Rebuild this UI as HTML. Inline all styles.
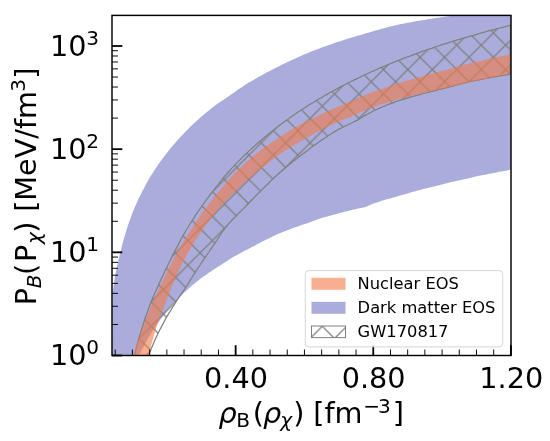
<!DOCTYPE html>
<html><head><meta charset="utf-8"><title>EOS plot</title>
<style>html,body{margin:0;padding:0;background:#fff;}body{width:550px;height:441px;position:relative;overflow:hidden;}</style>
</head><body>
<svg width="550" height="441" viewBox="0 0 550 441" style="position:absolute;left:0;top:0">
<defs>
<clipPath id="ax"><rect x="112.0" y="15.4" width="399.0" height="340.1"/></clipPath>
<pattern id="hx" patternUnits="userSpaceOnUse" x="4.45" y="8.4" width="24.45" height="24.45"><path d="M0,0 L24.45,24.45 M0,24.45 L24.45,0" stroke="#808080" stroke-width="1.3" fill="none" stroke-linecap="square"/></pattern>
</defs>
<rect width="550" height="441" fill="#fff"/>
<g clip-path="url(#ax)">
<path d="M112.0,360.5 L112.6,293.6 L113.0,290.1 L113.5,286.5 L114.0,283.0 L114.5,279.6 L115.1,276.1 L115.7,272.7 L116.4,269.3 L117.1,266.0 L117.8,262.7 L118.6,259.4 L119.4,256.1 L120.2,252.9 L121.0,249.7 L121.8,246.5 L122.6,243.3 L123.5,240.2 L124.4,237.1 L125.3,234.0 L126.2,231.0 L127.1,228.0 L128.1,225.0 L129.1,222.1 L130.2,219.2 L131.2,216.3 L132.3,213.4 L133.4,210.6 L134.6,207.8 L135.8,205.0 L137.0,202.2 L138.2,199.5 L139.5,196.8 L140.8,194.2 L142.1,191.5 L143.5,188.9 L144.8,186.4 L146.2,183.8 L147.7,181.3 L149.1,178.8 L150.6,176.3 L152.1,173.9 L153.7,171.4 L155.2,169.0 L156.8,166.7 L158.4,164.3 L160.0,162.0 L161.7,159.7 L163.4,157.4 L165.1,155.2 L166.8,153.0 L168.6,150.8 L170.3,148.6 L172.1,146.4 L173.9,144.3 L175.8,142.2 L177.6,140.1 L179.5,138.0 L181.4,136.0 L183.3,133.9 L185.2,131.9 L187.1,130.0 L189.1,128.0 L191.1,126.0 L193.2,124.1 L195.2,122.2 L197.3,120.3 L199.4,118.5 L201.5,116.6 L203.6,114.8 L205.7,113.0 L207.9,111.2 L210.1,109.4 L212.3,107.6 L214.5,105.9 L216.7,104.3 L218.9,102.8 L221.2,101.3 L223.5,99.8 L225.8,98.3 L228.1,96.7 L230.4,95.1 L232.6,93.5 L234.9,91.9 L237.1,90.3 L239.4,88.7 L241.7,87.2 L244.0,85.7 L246.4,84.1 L248.9,82.6 L251.4,81.2 L253.8,79.7 L256.3,78.2 L258.9,76.8 L261.4,75.4 L263.9,74.0 L266.5,72.6 L269.1,71.2 L271.7,69.9 L274.3,68.5 L276.9,67.2 L279.6,65.9 L282.2,64.6 L284.9,63.3 L287.6,62.0 L290.3,60.7 L293.0,59.4 L295.7,58.2 L298.5,56.9 L301.2,55.7 L304.0,54.6 L306.8,53.4 L309.6,52.3 L312.5,51.1 L315.3,50.0 L318.2,48.9 L321.0,47.8 L323.9,46.8 L326.8,45.7 L329.8,44.7 L332.7,43.7 L335.6,42.6 L338.6,41.7 L341.6,40.7 L344.6,39.7 L347.6,38.8 L350.6,37.8 L353.7,36.9 L356.7,36.0 L359.8,35.2 L362.9,34.2 L366.0,33.3 L369.1,32.4 L372.2,31.5 L375.4,30.6 L378.6,29.7 L381.7,28.8 L384.9,27.9 L388.1,27.1 L391.4,26.2 L394.6,25.4 L397.9,24.7 L401.1,24.0 L404.4,23.4 L407.7,22.8 L411.0,22.2 L414.4,21.6 L417.7,21.0 L421.1,20.4 L424.4,19.9 L427.8,19.3 L431.2,18.7 L434.7,18.2 L438.1,17.7 L441.5,17.2 L445.0,16.7 L448.5,16.2 L452.0,15.8 L455.5,15.3 L459.0,14.9 L462.6,14.5 L516.0,10.4 L516.0,169.8 L510.1,169.8 L507.1,170.4 L504.2,171.0 L501.2,171.5 L498.3,172.1 L495.3,172.7 L492.4,173.3 L489.4,173.8 L486.5,174.4 L483.5,174.9 L480.6,175.5 L477.7,176.1 L474.7,176.8 L471.8,177.5 L468.9,178.2 L465.9,179.0 L463.0,179.6 L460.1,180.2 L457.2,180.8 L454.3,181.4 L451.4,182.1 L448.6,182.8 L445.7,183.6 L442.8,184.3 L440.0,185.0 L437.1,185.7 L434.3,186.4 L431.5,187.0 L428.7,187.7 L425.9,188.4 L423.1,189.1 L420.3,189.9 L417.5,190.6 L414.8,191.4 L412.0,192.1 L409.3,192.9 L406.6,193.7 L403.9,194.5 L401.2,195.3 L398.5,196.1 L395.8,196.9 L393.1,197.6 L390.5,198.4 L387.8,199.1 L385.1,199.8 L382.4,200.6 L379.8,201.4 L377.1,202.4 L374.4,203.3 L371.7,204.3 L369.0,205.5 L366.3,206.7 L363.6,207.4 L360.9,208.0 L358.1,208.6 L355.4,209.2 L352.7,209.8 L349.9,210.5 L347.2,211.2 L344.5,211.8 L341.8,212.5 L339.0,213.2 L336.3,213.9 L333.6,214.7 L330.9,215.4 L328.2,216.2 L325.4,216.9 L322.7,217.7 L320.0,218.5 L317.4,219.5 L314.7,220.5 L312.0,221.5 L309.4,222.5 L306.7,223.4 L304.1,224.2 L301.5,225.1 L298.9,226.0 L296.3,226.9 L293.7,227.8 L291.1,228.8 L288.6,229.8 L286.1,230.7 L283.5,231.7 L281.0,232.7 L278.5,233.8 L276.0,234.8 L273.6,236.0 L271.1,237.2 L268.7,238.4 L266.3,239.6 L263.9,240.8 L261.5,242.1 L259.1,243.3 L256.7,244.6 L254.4,245.9 L252.0,247.1 L249.7,248.2 L247.4,249.4 L245.1,250.5 L242.9,251.7 L240.6,252.9 L238.4,254.2 L236.2,255.4 L234.1,256.6 L232.0,257.8 L230.0,259.1 L227.9,260.4 L225.9,261.7 L223.9,263.0 L222.0,264.3 L220.0,265.5 L218.0,266.7 L216.1,267.9 L214.2,269.2 L212.3,270.5 L210.4,271.7 L208.5,273.0 L206.7,274.4 L204.8,275.7 L202.7,277.1 L200.7,278.6 L198.6,280.2 L196.6,281.8 L194.6,283.4 L192.6,285.1 L190.7,286.8 L188.8,288.5 L186.9,290.2 L185.1,291.9 L183.2,293.6 L181.3,295.4 L179.4,297.2 L177.6,299.0 L175.8,300.8 L174.0,302.7 L172.4,304.5 L170.8,306.4 L169.2,308.3 L167.6,310.2 L166.0,312.2 L164.5,314.1 L163.0,316.1 L161.5,318.1 L160.0,320.1 L158.5,322.2 L157.1,324.2 L155.7,326.3 L154.3,328.4 L152.9,330.6 L151.5,332.7 L150.2,334.9 L148.9,337.1 L147.6,339.3 L146.3,341.5 L145.1,343.7 L143.8,346.0 L142.6,348.3 L141.4,350.6 L140.3,353.0 L139.1,355.3 L139.1,360.5Z" fill="#7276c5" fill-opacity="0.6"/>
<path d="M134.5,356.0 L135.3,352.5 L136.2,348.9 L137.0,345.4 L137.9,341.9 L138.9,338.4 L139.9,334.9 L141.0,331.4 L142.0,328.0 L143.1,324.6 L144.2,321.2 L145.3,317.8 L146.5,314.5 L147.7,311.1 L148.9,307.8 L150.1,304.6 L151.4,301.3 L152.7,298.0 L154.1,294.8 L155.6,291.6 L157.0,288.4 L158.4,285.3 L159.8,282.1 L161.2,279.0 L162.6,275.9 L164.1,272.8 L165.6,269.7 L167.1,266.7 L168.6,263.7 L170.0,260.7 L171.5,257.7 L172.9,254.7 L174.4,251.8 L176.0,248.9 L177.5,246.0 L179.0,243.1 L180.5,240.2 L182.1,237.4 L183.6,234.6 L185.3,231.8 L186.9,229.0 L188.6,226.2 L190.3,223.5 L192.0,220.8 L193.8,218.1 L195.5,215.4 L197.3,212.7 L199.1,210.1 L200.9,207.5 L202.8,204.9 L204.6,202.3 L206.5,199.7 L208.4,197.2 L210.2,194.6 L212.1,192.1 L214.1,189.7 L216.0,187.2 L218.0,184.8 L219.8,182.3 L221.7,179.9 L223.6,177.5 L225.6,175.2 L227.6,172.8 L229.8,170.5 L231.9,168.2 L234.0,165.9 L236.2,163.6 L238.4,161.4 L240.6,159.2 L242.8,156.9 L245.1,154.8 L247.3,152.6 L249.6,150.4 L251.9,148.3 L254.3,146.2 L256.6,144.1 L259.0,142.0 L261.4,140.0 L263.8,137.9 L266.2,135.9 L268.6,133.9 L271.1,131.9 L273.5,129.9 L276.0,128.0 L278.6,126.1 L281.1,124.2 L283.6,122.3 L286.2,120.4 L288.8,118.6 L291.4,116.7 L294.0,114.9 L296.6,113.1 L299.3,111.3 L302.0,109.5 L304.7,107.8 L307.4,106.1 L310.1,104.3 L312.8,102.7 L315.6,101.0 L318.4,99.3 L321.2,97.7 L324.0,96.0 L326.8,94.4 L329.6,92.8 L332.5,91.2 L335.3,89.7 L338.2,88.1 L341.1,86.6 L344.1,85.0 L347.0,83.5 L349.9,82.0 L352.9,80.6 L355.9,79.1 L358.9,77.7 L361.9,76.2 L364.9,74.8 L367.9,73.4 L371.0,72.0 L374.1,70.7 L377.1,69.3 L380.2,67.9 L383.3,66.6 L386.5,65.3 L389.6,64.0 L392.7,62.7 L395.9,61.4 L399.1,60.2 L402.3,58.9 L405.5,57.7 L408.7,56.5 L411.9,55.3 L415.2,54.1 L418.4,52.9 L421.7,51.7 L425.0,50.5 L428.3,49.4 L431.6,48.3 L434.9,47.1 L438.2,46.0 L441.5,44.9 L444.9,43.8 L448.3,42.8 L451.6,41.7 L455.0,40.6 L458.4,39.6 L461.8,38.6 L465.3,37.6 L468.7,36.6 L472.1,35.6 L475.6,34.6 L479.0,33.6 L482.5,32.6 L486.0,31.7 L489.5,30.7 L493.0,29.8 L496.5,28.9 L500.0,28.0 L503.6,27.1 L507.1,26.2 L510.7,25.3 L509.9,74.2 L506.5,74.8 L503.0,75.4 L499.6,76.0 L496.2,76.6 L492.7,77.2 L489.3,77.8 L485.9,78.5 L482.5,79.1 L479.2,79.8 L475.8,80.4 L472.4,81.1 L469.1,81.8 L465.7,82.7 L462.4,83.5 L459.1,84.4 L455.8,85.2 L452.5,86.1 L449.2,86.9 L446.0,87.8 L442.7,88.6 L439.5,89.5 L436.2,90.3 L433.0,91.1 L429.8,91.9 L426.7,92.7 L423.5,93.5 L420.3,94.4 L417.2,95.3 L414.1,96.2 L411.0,97.0 L407.9,97.9 L404.9,98.8 L401.8,99.7 L398.8,100.7 L395.9,101.7 L392.9,102.8 L390.0,103.9 L387.0,105.0 L384.2,106.2 L381.3,107.4 L378.5,108.6 L375.7,110.0 L372.9,111.3 L370.1,112.7 L367.4,114.2 L364.7,115.6 L362.0,117.3 L359.3,119.0 L356.7,120.6 L354.1,121.8 L351.5,123.0 L348.9,124.2 L346.3,125.5 L343.8,126.7 L341.3,128.0 L338.8,129.3 L336.3,130.6 L333.8,132.1 L331.4,133.7 L328.9,135.3 L326.5,136.9 L324.1,138.5 L321.7,140.1 L319.3,141.8 L316.9,143.4 L314.6,145.1 L312.2,146.8 L309.9,148.5 L307.6,150.2 L305.3,152.0 L303.0,153.7 L300.7,155.5 L298.5,157.2 L296.2,159.0 L294.0,160.8 L291.7,162.6 L289.5,164.4 L287.3,166.3 L285.1,168.1 L282.9,170.0 L280.8,171.8 L278.6,173.7 L276.5,175.6 L274.5,177.5 L272.5,179.4 L270.4,181.3 L268.5,183.3 L266.5,185.2 L264.5,187.2 L262.5,189.1 L260.5,191.1 L258.5,193.1 L256.5,195.1 L254.5,197.1 L252.5,199.2 L250.5,201.2 L248.5,203.3 L246.6,205.3 L244.6,207.4 L242.6,209.4 L240.6,211.4 L238.6,213.4 L236.6,215.5 L234.6,217.5 L232.7,219.5 L230.7,221.6 L228.8,223.7 L226.9,225.9 L225.1,228.1 L223.4,230.4 L221.7,232.7 L220.1,235.1 L218.5,237.6 L217.0,240.0 L215.3,242.4 L213.7,244.8 L212.1,247.2 L210.5,249.6 L208.9,252.0 L207.2,254.4 L205.6,256.8 L204.0,259.2 L202.3,261.6 L200.7,264.0 L199.1,266.5 L197.5,268.9 L195.9,271.3 L194.3,273.8 L192.7,276.2 L191.2,278.7 L189.6,281.2 L188.1,283.6 L186.5,286.1 L185.0,288.6 L183.3,291.1 L181.6,293.7 L179.8,296.2 L178.1,298.7 L176.3,301.3 L174.8,303.8 L173.2,306.4 L171.6,309.0 L170.0,311.6 L168.3,314.2 L166.7,316.9 L165.2,319.5 L163.8,322.2 L162.4,324.9 L161.0,327.6 L159.6,330.3 L158.2,333.0 L156.9,335.8 L155.6,338.5 L154.4,341.3 L153.2,344.1 L152.0,346.9 L150.9,349.8 L149.8,352.6 L148.8,355.5Z" fill="url(#hx)" stroke="#808080" stroke-width="1.25" stroke-linejoin="round"/>
<path d="M133.1,355.8 L134.1,352.6 L135.1,349.3 L136.1,346.1 L137.2,342.9 L138.3,339.7 L139.4,336.6 L140.5,333.4 L141.6,330.2 L142.8,327.1 L144.0,324.0 L145.1,320.8 L146.4,317.7 L147.6,314.6 L148.9,311.6 L150.1,308.5 L151.4,305.5 L152.7,302.4 L154.0,299.4 L155.4,296.4 L156.9,293.4 L158.3,290.4 L159.7,287.5 L161.0,284.5 L162.3,281.6 L163.7,278.7 L165.1,275.8 L166.5,272.9 L167.9,270.0 L169.3,267.2 L170.8,264.3 L172.2,261.5 L173.7,258.7 L175.2,255.9 L176.7,253.1 L178.2,250.4 L179.8,247.6 L181.5,244.9 L183.1,242.2 L184.8,239.5 L186.5,236.8 L188.1,234.2 L189.8,231.6 L191.4,228.9 L193.1,226.3 L194.8,223.8 L196.5,221.2 L198.2,218.7 L199.9,216.1 L201.7,213.6 L203.5,211.1 L205.3,208.7 L207.1,206.2 L208.9,203.8 L210.8,201.4 L212.6,199.0 L214.5,196.6 L216.4,194.3 L218.3,192.0 L220.2,189.7 L222.1,187.4 L224.1,185.1 L226.0,182.9 L227.9,180.6 L229.8,178.4 L231.8,176.3 L233.8,174.1 L235.9,172.0 L238.1,169.9 L240.3,167.8 L242.5,165.7 L244.7,163.7 L246.9,161.6 L249.2,159.6 L251.5,157.6 L253.8,155.7 L256.1,153.8 L258.4,151.9 L260.8,150.0 L263.2,148.1 L265.6,146.3 L268.1,144.7 L270.6,143.1 L273.1,141.5 L275.6,139.9 L278.1,138.3 L280.7,136.5 L283.3,134.8 L285.9,133.1 L288.5,131.4 L291.1,129.8 L293.8,128.1 L296.5,126.7 L299.2,125.2 L301.9,123.7 L304.6,122.3 L307.4,120.9 L310.2,119.6 L313.0,118.3 L315.8,116.9 L318.7,115.5 L321.5,114.1 L324.4,112.7 L327.3,111.4 L330.2,110.0 L333.1,108.7 L336.1,107.4 L339.0,106.2 L342.0,105.0 L345.0,103.8 L348.0,102.6 L351.1,101.2 L354.1,99.8 L357.2,98.5 L360.2,97.1 L363.3,95.9 L366.4,94.6 L369.5,93.3 L372.7,92.1 L375.8,91.1 L379.0,90.1 L382.2,88.9 L385.3,87.7 L388.5,86.6 L391.7,85.4 L395.0,84.3 L398.2,83.3 L401.5,82.3 L404.7,81.3 L408.0,80.4 L411.3,79.4 L414.6,78.5 L417.9,77.6 L421.2,76.6 L424.5,75.7 L427.8,74.8 L431.2,73.9 L434.5,73.0 L437.9,72.1 L441.3,71.1 L444.7,70.2 L448.1,69.3 L451.5,68.4 L454.9,67.6 L458.3,66.6 L461.7,65.6 L465.1,64.6 L468.6,63.7 L472.0,62.8 L475.5,62.0 L478.9,61.2 L482.4,60.4 L485.9,59.6 L489.3,58.8 L492.8,58.0 L496.3,57.3 L499.8,56.5 L503.3,55.7 L506.8,55.0 L510.3,54.2 L509.6,73.9 L506.3,74.6 L502.9,75.3 L499.6,76.0 L496.3,76.7 L492.9,77.4 L489.6,78.1 L486.2,78.8 L482.9,79.5 L479.5,80.1 L476.2,80.8 L472.8,81.5 L469.5,82.2 L466.1,83.0 L462.8,83.8 L459.4,84.7 L456.1,85.5 L452.7,86.3 L449.4,87.1 L446.1,87.9 L442.8,88.7 L439.4,89.5 L436.1,90.2 L432.8,90.9 L429.6,91.6 L426.3,92.4 L423.0,93.1 L419.8,93.9 L416.5,94.6 L413.3,95.4 L410.1,96.2 L406.9,97.0 L403.7,97.8 L400.5,98.6 L397.4,99.6 L394.2,100.6 L391.1,101.7 L388.0,102.6 L384.9,103.5 L381.9,104.3 L378.8,105.3 L375.8,106.3 L372.8,107.3 L369.8,108.5 L366.9,109.7 L363.9,111.0 L361.0,112.2 L358.1,113.5 L355.2,114.8 L352.4,116.1 L349.5,117.4 L346.7,118.5 L343.9,119.5 L341.1,120.6 L338.3,121.8 L335.6,122.9 L332.9,124.2 L330.1,125.5 L327.4,126.8 L324.8,128.1 L322.1,129.5 L319.5,130.9 L316.8,132.3 L314.2,133.7 L311.6,135.1 L309.1,136.5 L306.5,137.9 L304.0,139.4 L301.5,140.8 L299.0,142.3 L296.5,143.7 L294.0,145.2 L291.5,146.7 L289.1,148.2 L286.7,149.7 L284.3,151.3 L281.9,152.9 L279.5,154.6 L277.2,156.3 L274.8,158.0 L272.5,159.7 L270.2,161.4 L267.9,163.2 L265.6,164.9 L263.4,166.7 L261.1,168.5 L258.9,170.3 L256.7,172.1 L254.5,174.0 L252.3,175.8 L250.2,177.7 L248.0,179.6 L245.9,181.5 L243.8,183.4 L241.7,185.3 L239.6,187.3 L237.5,189.3 L235.5,191.3 L233.5,193.3 L231.4,195.3 L229.5,197.3 L227.5,199.4 L225.5,201.5 L223.6,203.6 L221.7,205.7 L219.8,207.9 L217.9,210.0 L216.1,212.2 L214.2,214.4 L212.4,216.6 L210.7,218.9 L208.9,221.2 L207.1,223.5 L205.4,225.8 L203.7,228.1 L202.0,230.5 L200.4,232.9 L198.8,235.3 L197.2,237.7 L195.6,240.1 L194.0,242.6 L192.5,245.1 L191.0,247.7 L189.5,250.2 L188.0,252.8 L186.6,255.4 L185.2,258.0 L183.8,260.7 L182.4,263.3 L181.1,266.0 L179.8,268.8 L178.5,271.5 L177.2,274.3 L176.0,277.0 L174.7,279.8 L173.5,282.7 L172.3,285.5 L171.2,288.4 L170.0,291.3 L168.9,294.2 L167.8,297.1 L166.7,300.0 L165.6,303.0 L164.5,306.0 L163.2,309.0 L162.0,312.0 L160.7,315.0 L159.6,318.0 L158.5,321.1 L157.5,324.2 L156.5,327.3 L155.4,330.4 L154.5,333.5 L153.6,336.6 L152.7,339.7 L151.8,342.9 L151.0,346.1 L150.3,349.3 L149.6,352.4 L148.9,355.6Z" fill="#f37a46" fill-opacity="0.6"/>
</g>
<path d="M115.22,355.5 V349.50" stroke="#000" stroke-width="0.95"/>
<path d="M132.42,355.5 V349.50" stroke="#000" stroke-width="0.95"/>
<path d="M149.62,355.5 V349.50" stroke="#000" stroke-width="0.95"/>
<path d="M166.83,355.5 V349.50" stroke="#000" stroke-width="0.95"/>
<path d="M184.03,355.5 V349.50" stroke="#000" stroke-width="0.95"/>
<path d="M201.23,355.5 V349.50" stroke="#000" stroke-width="0.95"/>
<path d="M218.44,355.5 V349.50" stroke="#000" stroke-width="0.95"/>
<path d="M235.64,355.5 V345.20" stroke="#000" stroke-width="1.8"/>
<path d="M252.84,355.5 V349.50" stroke="#000" stroke-width="0.95"/>
<path d="M270.05,355.5 V349.50" stroke="#000" stroke-width="0.95"/>
<path d="M287.25,355.5 V349.50" stroke="#000" stroke-width="0.95"/>
<path d="M304.45,355.5 V349.50" stroke="#000" stroke-width="0.95"/>
<path d="M321.66,355.5 V349.50" stroke="#000" stroke-width="0.95"/>
<path d="M338.86,355.5 V349.50" stroke="#000" stroke-width="0.95"/>
<path d="M356.06,355.5 V349.50" stroke="#000" stroke-width="0.95"/>
<path d="M373.27,355.5 V345.20" stroke="#000" stroke-width="1.8"/>
<path d="M390.47,355.5 V349.50" stroke="#000" stroke-width="0.95"/>
<path d="M407.67,355.5 V349.50" stroke="#000" stroke-width="0.95"/>
<path d="M424.88,355.5 V349.50" stroke="#000" stroke-width="0.95"/>
<path d="M442.08,355.5 V349.50" stroke="#000" stroke-width="0.95"/>
<path d="M459.29,355.5 V349.50" stroke="#000" stroke-width="0.95"/>
<path d="M476.49,355.5 V349.50" stroke="#000" stroke-width="0.95"/>
<path d="M493.69,355.5 V349.50" stroke="#000" stroke-width="0.95"/>
<path d="M510.90,355.5 V345.20" stroke="#000" stroke-width="1.8"/>
<path d="M112.0,355.50 H122.30" stroke="#000" stroke-width="1.8"/>
<path d="M112.0,324.44 H118.00" stroke="#000" stroke-width="0.95"/>
<path d="M112.0,306.28 H118.00" stroke="#000" stroke-width="0.95"/>
<path d="M112.0,293.39 H118.00" stroke="#000" stroke-width="0.95"/>
<path d="M112.0,283.39 H118.00" stroke="#000" stroke-width="0.95"/>
<path d="M112.0,275.22 H118.00" stroke="#000" stroke-width="0.95"/>
<path d="M112.0,268.31 H118.00" stroke="#000" stroke-width="0.95"/>
<path d="M112.0,262.33 H118.00" stroke="#000" stroke-width="0.95"/>
<path d="M112.0,257.05 H118.00" stroke="#000" stroke-width="0.95"/>
<path d="M112.0,252.33 H122.30" stroke="#000" stroke-width="1.8"/>
<path d="M112.0,221.27 H118.00" stroke="#000" stroke-width="0.95"/>
<path d="M112.0,203.11 H118.00" stroke="#000" stroke-width="0.95"/>
<path d="M112.0,190.22 H118.00" stroke="#000" stroke-width="0.95"/>
<path d="M112.0,180.22 H118.00" stroke="#000" stroke-width="0.95"/>
<path d="M112.0,172.05 H118.00" stroke="#000" stroke-width="0.95"/>
<path d="M112.0,165.14 H118.00" stroke="#000" stroke-width="0.95"/>
<path d="M112.0,159.16 H118.00" stroke="#000" stroke-width="0.95"/>
<path d="M112.0,153.88 H118.00" stroke="#000" stroke-width="0.95"/>
<path d="M112.0,149.16 H122.30" stroke="#000" stroke-width="1.8"/>
<path d="M112.0,118.10 H118.00" stroke="#000" stroke-width="0.95"/>
<path d="M112.0,99.94 H118.00" stroke="#000" stroke-width="0.95"/>
<path d="M112.0,87.05 H118.00" stroke="#000" stroke-width="0.95"/>
<path d="M112.0,77.05 H118.00" stroke="#000" stroke-width="0.95"/>
<path d="M112.0,68.88 H118.00" stroke="#000" stroke-width="0.95"/>
<path d="M112.0,61.97 H118.00" stroke="#000" stroke-width="0.95"/>
<path d="M112.0,55.99 H118.00" stroke="#000" stroke-width="0.95"/>
<path d="M112.0,50.71 H118.00" stroke="#000" stroke-width="0.95"/>
<path d="M112.0,45.99 H122.30" stroke="#000" stroke-width="1.8"/>
<rect x="112.0" y="15.4" width="399.0" height="340.1" fill="none" stroke="#000" stroke-width="1.45"/>
<text x="236.0" y="387.5" font-size="28.7" text-anchor="middle" font-family="'DejaVu Sans','Liberation Sans',sans-serif" fill="#000" >0.40</text>
<text x="373.7" y="387.5" font-size="28.7" text-anchor="middle" font-family="'DejaVu Sans','Liberation Sans',sans-serif" fill="#000" >0.80</text>
<text x="511.3" y="387.5" font-size="28.7" text-anchor="middle" font-family="'DejaVu Sans','Liberation Sans',sans-serif" fill="#000" >1.20</text>
<text font-family="'DejaVu Sans','Liberation Sans',sans-serif" fill="#000" font-size="28.7"><tspan x="49.94" y="365.40" font-size="28.7">10</tspan><tspan x="86.37" y="354.40" font-size="20.09">0</tspan></text>
<text font-family="'DejaVu Sans','Liberation Sans',sans-serif" fill="#000" font-size="28.7"><tspan x="49.94" y="262.23" font-size="28.7">10</tspan><tspan x="86.37" y="251.23" font-size="20.09">1</tspan></text>
<text font-family="'DejaVu Sans','Liberation Sans',sans-serif" fill="#000" font-size="28.7"><tspan x="49.94" y="159.06" font-size="28.7">10</tspan><tspan x="86.37" y="148.06" font-size="20.09">2</tspan></text>
<text font-family="'DejaVu Sans','Liberation Sans',sans-serif" fill="#000" font-size="28.7"><tspan x="49.94" y="55.89" font-size="28.7">10</tspan><tspan x="86.37" y="44.89" font-size="20.09">3</tspan></text>
<text font-family="'DejaVu Sans','Liberation Sans',sans-serif" fill="#000" font-size="28.7"><tspan x="218.44" y="422.60" font-size="28.7" font-style="italic">ρ</tspan><tspan x="236.23" y="427.20" font-size="20.09">B</tspan><tspan x="252.73" y="422.60" font-size="28.7">(</tspan><tspan x="263.04" y="422.60" font-size="28.7" font-style="italic">ρ</tspan><tspan x="280.18" y="427.20" font-size="20.09" font-style="italic">χ</tspan><tspan x="293.30" y="422.60" font-size="28.7">)</tspan><tspan x="313.33" y="422.60" font-size="28.7">[fm</tspan><tspan x="363.37" y="413.00" font-size="20.09">−</tspan><tspan x="378.07" y="413.00" font-size="20.09">3</tspan><tspan x="392.72" y="422.60" font-size="28.7">]</tspan></text>
<g transform="translate(35.7,305.2) rotate(-90)"><text font-family="'DejaVu Sans','Liberation Sans',sans-serif" fill="#000" font-size="28.7"><tspan x="0.00" y="0.00" font-size="28.7">P</tspan><tspan x="17.00" y="5.00" font-size="20.09" font-style="italic">B</tspan><tspan x="30.20" y="0.00" font-size="28.7">(</tspan><tspan x="43.10" y="0.00" font-size="28.7">P</tspan><tspan x="61.10" y="5.00" font-size="20.09" font-style="italic">χ</tspan><tspan x="72.50" y="0.00" font-size="28.7">)</tspan><tspan x="93.33" y="0.00" font-size="28.7">[MeV/fm</tspan><tspan x="213.40" y="-10.70" font-size="20.09">3</tspan><tspan x="226.55" y="0.00" font-size="28.7">]</tspan></text></g>
<rect x="305.3" y="270.6" width="197.4" height="76.3" rx="3.5" ry="3.5" fill="#fff" fill-opacity="0.8" stroke="#ccc" stroke-opacity="0.8" stroke-width="1"/>
<rect x="311.5" y="277.8" width="34" height="12" fill="#f37a46" fill-opacity="0.6"/>
<rect x="311.5" y="301.8" width="34" height="12" fill="#7276c5" fill-opacity="0.6"/>
<rect x="311.5" y="326" width="34" height="11.6" fill="url(#hx)" stroke="#808080" stroke-width="1.0"/>
<text x="357.6" y="289.3" font-size="16.3" text-anchor="start" font-family="'DejaVu Sans','Liberation Sans',sans-serif" fill="#000" >Nuclear EOS</text>
<text x="357.6" y="313.2" font-size="16.3" text-anchor="start" font-family="'DejaVu Sans','Liberation Sans',sans-serif" fill="#000" >Dark matter EOS</text>
<text x="357.6" y="337.3" font-size="16.3" text-anchor="start" font-family="'DejaVu Sans','Liberation Sans',sans-serif" fill="#000" >GW170817</text>
</svg>
</body></html>
